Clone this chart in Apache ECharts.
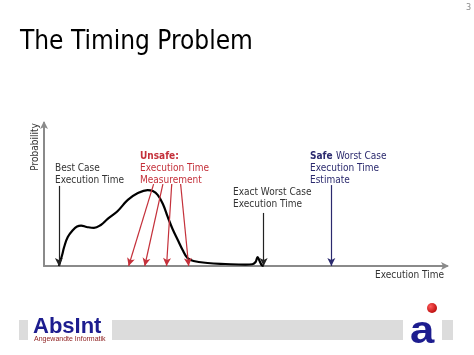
<!DOCTYPE html>
<html>
<head>
<meta charset="utf-8">
<script src="https://cdn.jsdelivr.net/npm/echarts@6/dist/echarts.min.js"></script>
<style>
  html, body { margin: 0; padding: 0; background: #fff; }
  #chart { width: 474px; height: 355px; }
</style>
</head>
<body>
<div id="chart"></div>
<script>
// Execution-time distribution (x: time units 0..100, y: relative probability 0..100)
const curveX = [3.7, 4.5, 5.0, 5.9, 7.2, 8.2, 9.2, 10.6, 12.4, 14.1, 15.8, 18.3, 20.8, 23.3, 25.7, 27.0, 28.2, 29.5, 30.7, 31.9, 33.2, 34.4, 35.6, 37.1, 40.6, 45.0, 50.0, 51.7, 52.5, 53.0, 53.5, 54.0, 54.5];
const curveY = [0, 7.7, 13.3, 20.3, 25.2, 27.6, 28.3, 27.3, 26.6, 28.7, 32.9, 38.5, 46.2, 51.0, 53.1, 52.4, 49.7, 43.4, 34.3, 25.9, 18.2, 11.2, 5.6, 3.5, 2.1, 1.4, 0.9, 1.2, 2.8, 6.3, 3.5, 0.7, 0];

// Key execution times
const bcet = 3.7;
const wcetExact = 54.5;
const wcetSafe = 71.3;
// Measured execution times (arrow heads) and where their pointers start
const measuredTimes = [21.0, 25.0, 30.4, 35.9];
const measuredFrom = [27.2, 29.5, 31.7, 33.9];
const pointerTop = 57.3;
const bcetTop = 56.0;
const exactTop = 37.1;
const safeTop = 56.6;

const curve = curveX.map((x, i) => [x, curveY[i]]);

const RED = '#c4303a';
const NAVY = '#2b2a6e';
const TXT = '#333333';
const FAM = '"DejaVu Sans Condensed", "DejaVu Sans", sans-serif';

function arrow(x1, y1, x2, y2, color) {
  return [{ coord: [x1, y1], lineStyle: { color: color, width: 1.2, type: 'solid' } }, { coord: [x2, y2] }];
}

const chart = echarts.init(document.getElementById('chart'), null, { renderer: 'canvas' });

const textEl = (text, x, y, opts, extra) => Object.assign({
  type: 'text', x: x, y: y, silent: true,
  style: Object.assign({ text: text, fill: TXT, font: '10px ' + FAM, verticalAlign: 'middle', align: 'left' }, opts || {})
}, extra || {});

chart.setOption({
  animation: false,
  backgroundColor: '#ffffff',
  grid: { left: 44, right: 27, top: 123, bottom: 89 },
  xAxis: {
    type: 'value', min: 0, max: 100,
    axisLine: { show: true, lineStyle: { color: '#8a8a8a', width: 2 }, symbol: ['none', 'arrow'], symbolSize: [6, 8], symbolOffset: [0, 2] },
    axisTick: { show: false }, axisLabel: { show: false }, splitLine: { show: false }
  },
  yAxis: {
    type: 'value', min: 0, max: 100,
    axisLine: { show: true, lineStyle: { color: '#8a8a8a', width: 2 }, symbol: ['none', 'arrow'], symbolSize: [6, 8], symbolOffset: [0, 2] },
    axisTick: { show: false }, axisLabel: { show: false }, splitLine: { show: false }
  },
  series: [
    {
      type: 'line', data: curve, smooth: 0.4, symbol: 'none',
      lineStyle: { color: '#000', width: 2.2 },
      z: 3
    },
    {
      type: 'line', data: [], symbol: 'none',
      markLine: {
        silent: true, symbol: ['none', 'arrow'], symbolSize: [6, 8],
        label: { show: false },
        data: [
          arrow(bcet, bcetTop, bcet, 0, '#222'),
          arrow(wcetExact, exactTop, wcetExact, 0, '#222'),
          arrow(wcetSafe, safeTop, wcetSafe, 0, NAVY)
        ].concat(measuredTimes.map((t, i) => arrow(measuredFrom[i], pointerTop, t, 0, RED))),
        z: 4
      }
    }
  ],
  graphic: [
    textEl('3', 466, 8, { fill: '#8a8a8a', font: '9px ' + FAM }),
    textEl('The Timing Problem', 20, 42, { fill: '#000', font: '26px ' + FAM }),
    textEl('Probability', 35, 147, { align: 'center' }, { rotation: Math.PI / 2 }),
    textEl('Best Case', 55, 168),
    textEl('Execution Time', 55, 180),
    textEl('Unsafe:', 140, 156, { fill: RED, font: 'bold 10px ' + FAM }),
    textEl('Execution Time', 140, 168, { fill: RED }),
    textEl('Measurement', 140, 180, { fill: RED }),
    {
      type: 'text', x: 310, y: 156, silent: true,
      style: {
        text: '{b|Safe} {n|Worst Case}', verticalAlign: 'middle',
        rich: {
          b: { fill: NAVY, font: 'bold 10px ' + FAM },
          n: { fill: NAVY, font: '10px ' + FAM }
        }
      }
    },
    textEl('Execution Time', 310, 168, { fill: NAVY }),
    textEl('Estimate', 310, 180, { fill: NAVY }),
    textEl('Exact Worst Case', 233, 192),
    textEl('Execution Time', 233, 204),
    textEl('Execution Time', 375, 275),
    // footer band
    { type: 'rect', silent: true, shape: { x: 19, y: 320, width: 9, height: 20 }, style: { fill: '#dcdcdc' } },
    { type: 'rect', silent: true, shape: { x: 112, y: 320, width: 291, height: 20 }, style: { fill: '#dcdcdc' } },
    { type: 'rect', silent: true, shape: { x: 442, y: 320, width: 11, height: 20 }, style: { fill: '#dcdcdc' } },
    textEl('AbsInt', 33, 327, { fill: '#1d1d8f', font: 'bold 22px "Liberation Sans"' }),
    textEl('Angewandte Informatik', 34, 339, { fill: '#8b1a1a', font: '7px "Liberation Sans"' }),
    textEl('a', 0, 0, { fill: '#1d1d8f', font: 'bold 38px "Liberation Sans"' },
      { x: 410, y: 333, scaleX: 1.15 }),
    { type: 'circle', silent: true, shape: { cx: 432, cy: 308, r: 5 },
      style: { fill: new echarts.graphic.RadialGradient(0.35, 0.35, 0.8, [{ offset: 0, color: '#ff5a5a' }, { offset: 1, color: '#b00000' }]) } }
  ]
});
</script>
</body>
</html>
